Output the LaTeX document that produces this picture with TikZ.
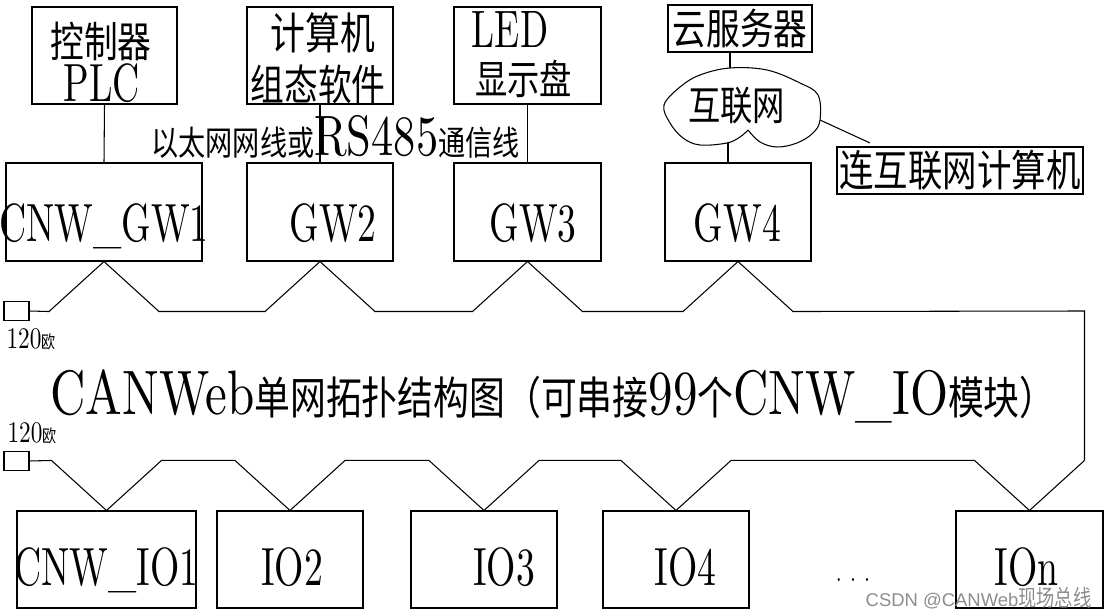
\documentclass[tikz,border=0pt]{standalone}
\usepackage{fontspec}
\newfontfamily\cad{lmroman10-regular.otf}[FakeStretch=0.7]
\newfontfamily\cadw{lmroman10-regular.otf}[FakeStretch=0.78]
\newfontfamily\cjk{Noto Sans CJK SC}[FakeStretch=0.8]
\newfontfamily\wmfont{Liberation Sans}
\newcommand{\zh}[2]{{\cjk\fontsize{#1}{#1}\selectfont #2}}
\usetikzlibrary{calc,positioning}

\begin{document}
\begin{tikzpicture}[x=0.02cm, y=-0.02cm, line width=0.6pt,
  box/.style 2 args={draw, inner sep=0pt, minimum width=#1*0.02cm, minimum height=#2*0.02cm},
  lt/.style={font=\cad\fontsize{#1}{#1}\selectfont, inner sep=0pt},
  ltw/.style={font=\cadw\fontsize{#1}{#1}\selectfont, inner sep=0pt},
  cn/.style={font=\cjk\fontsize{#1}{#1}\selectfont, inner sep=0pt}]
\useasboundingbox (0,0) rectangle (1109,614);

%% upper devices
\node[box={145}{97}] (plc) at (104.5,55.5) {};
\node[box={146}{97}] (pc) at (320,55.5) {};
\node[box={147}{97}] (led) at (527.5,55.5) {};
\node[box={144}{47}, cn=24] (cloudsrv) at (740,28.5) {云服务器};
\node[box={246}{47}, cn=24.5] (netpc) at (960,170.5) {连互联网计算机};
\node[cn=24] (plcup) at (101,41) {控制器};
\node[lt=30.6, anchor=base] (plcdn) at (102,102) {PLC};
\node[cn=24.8] (pcup) at (323,33) {计算机};
\node[cn=24] (pcdn) at (318,84) {组态软件};
\node[lt=30, anchor=base] (ledup) at (510,48) {LED};
\node[cn=23] (leddn) at (523.5,79) {显示盘};

%% gateways
\node[box={196}{98}] (gw1) at (104,212) {};
\node[box={146}{98}] (gw2) at (320,212) {};
\node[box={147}{98}] (gw3) at (527.5,212) {};
\node[box={146}{98}] (gw4) at (738,212) {};
\node[lt=30.6, anchor=base] (gw1lbl) at (104,242) {CNW\_GW1};
\node[lt=30.6, anchor=base] (gw2lbl) at (333,242) {GW2};
\node[lt=30.6, anchor=base] (gw3lbl) at (533,242) {GW3};
\node[lt=30.6, anchor=base] (gw4lbl) at (737.5,242) {GW4};

%% io modules
\node[box={179}{97}] (io1) at (106.5,559.5) {};
\node[box={146}{97}] (io2) at (290,559.5) {};
\node[box={146}{97}] (io3) at (484,559.5) {};
\node[box={146}{97}] (io4) at (676,559.5) {};
\node[box={147}{97}] (ion) at (1029.5,559.5) {};
\node[lt=30.6, anchor=base] (io1lbl) at (106.5,585) {CNW\_IO1};
\node[lt=30.6, anchor=base] (io2lbl) at (292,585) {IO2};
\node[lt=30.6, anchor=base] (io3lbl) at (504,585) {IO3};
\node[lt=30.6, anchor=base] (io4lbl) at (685.5,585) {IO4};
\node[lt=30.6, anchor=base] (ionlbl) at (1026.5,585) {IOn};
\node[lt=16] (dots) at (853,580) {. . .};

%% terminators
\node[box={25}{19}] (term1) at (16.5,311) {};
\node[box={25}{19}] (term2) at (16.5,461) {};
\node[ltw=17, anchor=base west] (term1lbl) at (6,349) {120\zh{10}{欧}};
\node[ltw=17, anchor=base west] (term2lbl) at (7,443) {120\zh{10}{欧}};

%% internet cloud
\draw plot[smooth, tension=0.6] coordinates {(748,130) (760,142) (777,147) (797,143)
  (813,133) (820,120) (818,95) (800,83) (767,70) (730,68) (700,75) (680,87) (664,105)
  (670,123) (683,138) (700,145) (727,143) (740,137) (748,130)};
\node[cn=23] (inet) at (736.5,106) {互联网};
\coordinate (inettop) at (730,68);
\coordinate (inetbot) at (728,143.5);
\coordinate (inetright) at (820,120);
\coordinate (netpcend) at (870,143);

%% vertical links
\draw (plc.south) -- (gw1.north);
\draw (pc.south) -- (pc.south |- gw2.north);
\draw (led.south) -- (led.south |- gw3.north);
\draw (cloudsrv.south -| inettop) -- (inettop);
\draw (inetbot) -- (inetbot |- gw4.north);
\draw (inetright) -- (netpcend);

%% CAN bus
\coordinate (busdn) at ($(ion.north)+(55,-50)$);
\draw (term1.east) \foreach \g in {gw1,gw2,gw3,gw4} {
  -- ($(\g.south)+(-55,50)$) -- (\g.south) -- ++(55,50) }
  -- (busdn |- term1.east) -- (busdn);
\draw (term2.east) \foreach \m in {io1,io2,io3,io4,ion} {
  -- ($(\m.north)+(-55,-50)$) -- (\m.north) -- ++(55,-50) };

%% texts
\node[ltw=32.4, anchor=base west] (buslbl) at (151,156)
  {\zh{19.3}{以太网网线或}RS485\zh{19.3}{通信线}};
\node[ltw=35.7, anchor=base west] (title) at (50,415)
  {CANWeb\zh{25.5}{单网拓扑结构图（可串接}99\zh{25.5}{个}CNW\_IO\zh{25.5}{模块）}};
\node[anchor=east, inner sep=0pt, text=black!45, font=\wmfont\fontsize{10.5}{10.5}\selectfont]
  (wmark) at (1092,598) {CSDN @CANWeb\zh{13}{现场总线}};
\end{tikzpicture}
\end{document}
